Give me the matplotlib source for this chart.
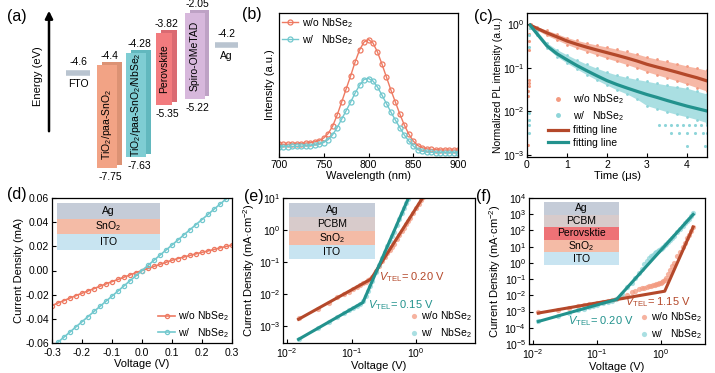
import numpy as np
import matplotlib.pyplot as plt
import matplotlib.transforms as mtransforms
from matplotlib.patches import Rectangle
from matplotlib.lines import Line2D
from matplotlib.ticker import LogLocator, FormatStrFormatter

plt.rcParams['font.family'] = ['Liberation Sans', 'DejaVu Sans']
plt.rcParams['mathtext.fontset'] = 'custom'
plt.rcParams['mathtext.rm'] = 'Liberation Sans'
plt.rcParams['mathtext.it'] = 'Liberation Sans:italic'
plt.rcParams['mathtext.bf'] = 'Liberation Sans:bold'
plt.rcParams['axes.unicode_minus'] = False
plt.rcParams['axes.linewidth'] = 0.9
plt.rcParams['xtick.direction'] = 'in'
plt.rcParams['ytick.direction'] = 'in'
plt.rcParams['xtick.major.size'] = 3
plt.rcParams['ytick.major.size'] = 3
plt.rcParams['xtick.major.pad'] = 2
plt.rcParams['ytick.major.pad'] = 2
plt.rcParams['xtick.labelsize'] = 7.5
plt.rcParams['ytick.labelsize'] = 7.5
plt.rcParams['axes.labelsize'] = 8
plt.rcParams['axes.labelpad'] = 1

## Data

# (a) energy levels (eV)
band_names = ['TiO$_2$/paa-SnO$_2$', 'TiO$_2$/paa-SnO$_2$/NbSe$_2$', 'Perovskite', 'Spiro-OMeTAD']
band_top = [-4.4, -4.28, -3.82, -2.05]
band_bot = [-7.75, -7.63, -5.35, -5.22]
elec_names = ['FTO', 'Ag']
elec_level = [-4.6, -4.2]

# (b) steady-state PL
wavelength = [700, 705, 710, 715, 720, 725, 730, 735, 740, 745, 750, 755, 760, 765, 770, 775, 780,
              785, 790, 795, 800, 805, 810, 815, 820, 825, 830, 835, 840, 845, 850, 855, 860, 865,
              870, 875, 880, 885, 890, 895, 900]
pl_wo = [12.6, 12.7, 12.8, 13.0, 13.2, 13.5, 13.9, 14.4, 15.2, 16.5, 19.0, 23.5, 31, 42, 55, 68, 81,
         95, 107, 115, 117.5, 114, 105, 93, 80, 67, 55, 43, 32, 23, 16, 11.5, 9.3, 8.2,
         7.6, 7.3, 7.1, 7.0, 7.0, 7.0, 7.0]
pl_w = [10.3, 10.4, 10.4, 10.6, 10.7, 10.9, 11.1, 11.5, 12.0, 12.8, 14.5, 17.4, 22.3, 29.4, 37.9, 46.3, 54.8,
        63.9, 71.7, 77.5, 78.5, 76, 70, 62, 53.5, 45, 37, 29.5, 22, 16, 11, 7.3, 5.8, 5.1,
        4.7, 4.5, 4.4, 4.3, 4.3, 4.3, 4.3]

# (c) TRPL
t_fit_wo = [0.08, 0.25, 0.5, 0.75, 1.0, 1.25, 1.5, 1.75, 2.0, 2.25, 2.5, 2.75, 3.0, 3.25, 3.5, 3.75, 4.0, 4.25, 4.5]
fit_wo = [0.95, 0.80, 0.63, 0.51, 0.41, 0.345, 0.295, 0.255, 0.222, 0.193, 0.167, 0.143, 0.12, 0.104,
          0.091, 0.079, 0.068, 0.059, 0.05]
t_fit_w = [0.08, 0.15, 0.25, 0.5, 0.75, 1.0, 1.25, 1.5, 1.75, 2.0, 2.25, 2.5, 2.75, 3.0, 3.25, 3.5, 3.75, 4.0, 4.25, 4.5]
fit_w = [0.95, 0.78, 0.60, 0.316, 0.209, 0.152, 0.112, 0.0851, 0.0653, 0.0507, 0.0412, 0.0343, 0.0288,
         0.0243, 0.0209, 0.0178, 0.0153, 0.0132, 0.0116, 0.0102]
t_cloud = [0.1, 0.25, 0.5, 0.75, 1.0, 1.25, 1.5, 1.75, 2.0, 2.25, 2.5, 2.75, 3.0, 3.25, 3.5, 3.75, 4.0, 4.25, 4.5]
cloud_wo_lo = [0.868, 0.730, 0.549, 0.434, 0.341, 0.280, 0.234, 0.196, 0.165, 0.140, 0.118, 0.099, 0.081,
               0.069, 0.059, 0.050, 0.042, 0.035, 0.029]
cloud_wo_hi = [0.997, 0.877, 0.723, 0.599, 0.493, 0.424, 0.371, 0.332, 0.299, 0.266, 0.236, 0.207, 0.177,
               0.157, 0.141, 0.125, 0.110, 0.099, 0.087]
cloud_w_lo = [0.85, 0.56, 0.28, 0.18, 0.128, 0.093, 0.069, 0.052, 0.040, 0.031, 0.025, 0.019, 0.0135,
              0.0115, 0.0098, 0.0085, 0.0075, 0.0065, 0.0055]
cloud_w_hi = [0.98, 0.70, 0.37, 0.26, 0.198, 0.152, 0.120, 0.097, 0.080, 0.068, 0.060, 0.054, 0.049,
              0.044, 0.040, 0.037, 0.034, 0.029, 0.025]
early_wo_t = [0.02, 0.03, 0.03, 0.04, 0.04, 0.05, 0.05, 0.06, 0.06, 0.07]
early_wo_v = [0.0017, 0.022, 0.03, 0.038, 0.045, 0.052, 0.25, 0.4, 0.6, 0.8]
early_w_t = [0.04, 0.04, 0.05, 0.05, 0.05, 0.06, 0.07]
early_w_v = [0.0032, 0.0048, 0.0065, 0.009, 0.3, 0.55, 0.8]
tail_w_t = [3.3, 3.45, 3.6, 3.75, 3.9, 4.05, 4.2, 4.35, 4.5, 3.6, 3.8, 4.0, 4.2, 4.4, 4.5, 4.0, 4.45]
tail_w_v = [0.0048, 0.0048, 0.0048, 0.0048, 0.0048, 0.0048, 0.0048, 0.0048, 0.0048,
            0.0032, 0.0032, 0.0032, 0.0032, 0.0032, 0.0032, 0.0016, 0.0016]

# (d) I-V of electron-only ITO/SnO2/Ag
v_d = [-0.30, -0.28, -0.26, -0.24, -0.22, -0.20, -0.18, -0.16, -0.14, -0.12, -0.10, -0.08, -0.06, -0.04,
       -0.02, 0.00, 0.02, 0.04, 0.06, 0.08, 0.10, 0.12, 0.14, 0.16, 0.18, 0.20, 0.22, 0.24, 0.26, 0.28, 0.30]
j_d_wo = [-0.0290, -0.0269, -0.0249, -0.0228, -0.0208, -0.0188, -0.0169, -0.0150, -0.0130, -0.0111,
          -0.0092, -0.0074, -0.0055, -0.0037, -0.0018, 0.0000, 0.0017, 0.0034, 0.0051, 0.0068, 0.0085,
          0.0099, 0.0112, 0.0125, 0.0138, 0.0150, 0.0162, 0.0174, 0.0187, 0.0199, 0.0211]
j_d_w = [-0.0636, -0.0593, -0.0551, -0.0509, -0.0466, -0.0424, -0.0382, -0.0339, -0.0297, -0.0254,
         -0.0212, -0.0170, -0.0127, -0.0085, -0.0042, 0.0000, 0.0042, 0.0085, 0.0127, 0.0169, 0.0211,
         0.0253, 0.0296, 0.0338, 0.0380, 0.0422, 0.0464, 0.0507, 0.0549, 0.0591, 0.0633]

# (e) SCLC ITO/SnO2/PCBM/Ag
v_e = [0.015, 0.03, 0.045, 0.06, 0.075, 0.09, 0.105, 0.12, 0.135, 0.15, 0.165, 0.18, 0.195, 0.21, 0.24,
       0.27, 0.3, 0.33, 0.36, 0.39, 0.42, 0.45, 0.5, 0.55, 0.6, 0.65, 0.7, 0.75, 0.8, 0.9, 1.0, 1.1, 1.2, 1.3]
j_e_wo = [1.8e-3, 3.5e-3, 5.4e-3, 7.9e-3, 1.03e-2, 1.2e-2, 1.45e-2, 1.7e-2, 1.95e-2, 2.2e-2, 2.4e-2,
          2.7e-2, 2.9e-2, 3.5e-2, 5.2e-2, 7.6e-2, 0.105, 0.14, 0.19, 0.24, 0.3, 0.38, 0.53, 0.72, 0.95,
          1.2, 1.55, 1.9, 2.35, 3.4, 4.8, 6.5, 8.5, 11]
j_e_w = [4.0e-4, 8.8e-4, 1.35e-3, 1.9e-3, 2.5e-3, 3.1e-3, 3.7e-3, 4.3e-3, 5.0e-3, 6.0e-3, 8.5e-3,
         1.27e-2, 1.84e-2, 2.6e-2, 4.8e-2, 8.2e-2, 0.134, 0.21, 0.31, 0.45, 0.63, 0.86, 1.4, 2.2, 3.3,
         4.8, 6.8, 9.2, 12, 20, 30, 40, 50, 60]
fit_e_wo_v = [0.015, 0.2, 1.5]
fit_e_wo_j = [1.65e-3, 0.0295, 17]
fit_e_w_v = [0.015, 0.15, 0.85]
fit_e_w_j = [3.9e-4, 5.5e-3, 16]

# (f) SCLC ITO/SnO2/Perovskite/PCBM/Ag
v_f = [0.0122, 0.025, 0.037, 0.05, 0.062, 0.075, 0.087, 0.1, 0.125, 0.15, 0.175, 0.2, 0.25, 0.3, 0.35,
       0.4, 0.45, 0.5, 0.55, 0.6, 0.65, 0.7, 0.75, 0.8, 0.85, 0.9, 0.95, 1.0, 1.05, 1.1, 1.15, 1.2,
       1.3, 1.4, 1.5, 1.6, 1.8, 2.0, 2.2, 2.4, 2.6, 2.8, 3.0, 3.15]
j_f_wo = [9e-4, 1.32e-3, 1.73e-3, 2.12e-3, 2.45e-3, 2.8e-3, 3.1e-3, 3.4e-3, 3.96e-3, 4.5e-3, 5.0e-3,
          5.6e-3, 8e-3, 0.011, 0.015, 0.019, 0.023, 0.027, 0.030, 0.033, 0.036, 0.039, 0.042, 0.045,
          0.048, 0.052, 0.056, 0.060, 0.066, 0.075, 0.09, 0.11, 0.2, 0.35, 0.6, 1.0, 2.5, 5, 10, 18,
          32, 55, 95, 170]
j_f_w = [2.8e-4, 5.4e-4, 8.4e-4, 1.18e-3, 1.5e-3, 1.85e-3, 2.2e-3, 2.55e-3, 3.3e-3, 4.0e-3, 4.8e-3,
         5.8e-3, 0.012, 0.031, 0.06, 0.11, 0.25, 0.45, 0.8, 1.3, 1.9, 2.6, 3.2, 3.8, 4.5, 5.2, 6.0,
         7.0, 8.5, 10, 12, 14, 20, 27, 35, 46, 78, 123, 187, 273, 387, 535, 725, 1150]
fit_f_wo_v = [0.0122, 1.15, 3.2]
fit_f_wo_j = [8.1e-4, 0.018, 162]
fit_f_w_v = [0.0122, 0.203, 3.2]
fit_f_w_j = [2.45e-4, 5.6e-3, 966]

# colours
c_wo = '#EE7A62'
c_w = '#72C8CE'
c_wo_fit = '#B4482A'
c_w_fit = '#22928D'
c_wo_sc = '#F39A80'
c_w_sc = '#8ED5D9'
layer_colors = {'Ag': '#C5CCD8', 'PCBM': '#D8CBCB', 'Perovsktie': '#EE7276',
                'SnO$_2$': '#F4BBA6', 'ITO': '#C8E4F1'}

## Figure

W, H = 715, 373
fig = plt.figure(figsize=(W / 100, H / 100), dpi=100)


def px_axes(x0, y0, x1, y1):
    return fig.add_axes([x0 / W, 1 - y1 / H, (x1 - x0) / W, (y1 - y0) / H])


def layer_stack(ax, bounds, names):
    iax = ax.inset_axes(bounds)
    n = len(names)
    for i, name in enumerate(names):
        iax.bar(0, 1, bottom=n - 1 - i, width=1, color=layer_colors[name], lw=0)
        iax.text(0, n - 0.5 - i, name, ha='center', va='center', fontsize=7.5)
    iax.set_xlim(-0.5, 0.5)
    iax.set_ylim(0, n)
    iax.set_axis_off()


# (a) energy level diagram, drawn on a schematic (not to scale) energy axis
axa = px_axes(0, 0, 240, 190)
axa.set_axis_off()
E_anchor = [-9.5, -7.75, -7.63, -5.35, -5.22, -4.6, -4.4, -4.28, -4.2, -3.82, -2.05, -0.5]
px_anchor = -np.array([190, 168, 157, 105, 99, 73, 65, 53, 45, 33, 13, 0], float)
axa.set_yscale('function', functions=(lambda e: np.interp(e, E_anchor, px_anchor),
                                      lambda v: np.interp(v, px_anchor, E_anchor)))
axa.set_ylim(-9.5, -0.5)
axa.set_xlim(-78 / 29.7, 162 / 29.7)

band_x = [0.98, 1.96, 2.9, 3.94]
band_w = [0.67, 0.67, 0.54, 0.67]
band_colors = ['#F2A385', '#7FCDD3', '#F27B7E', '#D7B8DC']
side_colors = ['#DC9274', '#62B8BE', '#DA6A72', '#BEA2C5']
label_shift = [-6, 0, 0, 0]
side_trans = axa.transData + mtransforms.ScaledTranslation(0.045, 0.03, fig.dpi_scale_trans)
for i in range(len(band_names)):
    x0 = band_x[i] - band_w[i] / 2
    axa.add_patch(Rectangle((x0, band_bot[i]), band_w[i], band_top[i] - band_bot[i],
                            transform=side_trans, color=side_colors[i], lw=0, zorder=1))
    axa.add_patch(Rectangle((x0, band_bot[i]), band_w[i], band_top[i] - band_bot[i],
                            color=band_colors[i], lw=0, zorder=2))
    e_mid = np.interp((np.interp(band_top[i], E_anchor, px_anchor) +
                       np.interp(band_bot[i], E_anchor, px_anchor)) / 2, px_anchor, E_anchor)
    axa.annotate(band_names[i], (band_x[i], e_mid), xytext=(0, label_shift[i]),
                 textcoords='offset points', rotation=90, ha='center', va='center',
                 fontsize=7.5, zorder=3)
    axa.annotate(str(band_top[i]), (band_x[i], band_top[i]), xytext=(2, 3),
                 textcoords='offset points', ha='center', va='bottom', fontsize=7.5)
    axa.annotate(str(band_bot[i]), (band_x[i], band_bot[i]), xytext=(2, -3),
                 textcoords='offset points', ha='center', va='top', fontsize=7.5)

elec_x = [0, 5.0]
for i in range(len(elec_names)):
    axa.hlines(elec_level[i], elec_x[i] - 0.4, elec_x[i] + 0.4, color='#B9C4D0', lw=4)
    axa.annotate(str(elec_level[i]), (elec_x[i], elec_level[i]), xytext=(0, 4),
                 textcoords='offset points', ha='center', va='bottom', fontsize=7.5)
    axa.annotate(elec_names[i], (elec_x[i], elec_level[i]), xytext=(0, -4),
                 textcoords='offset points', ha='center', va='top', fontsize=7.5)

axa.annotate('', xy=(49 / 240, 1 - 8 / 190), xytext=(49 / 240, 1 - 134 / 190),
             xycoords='axes fraction',
             arrowprops=dict(arrowstyle='-|>', lw=1.8, color='black', mutation_scale=11))
axa.text(38 / 240, 1 - 76 / 190, 'Energy (eV)', rotation=90, ha='center', va='center',
         fontsize=8, transform=axa.transAxes)

# (b) PL
axb = px_axes(279, 13, 458, 157)
axb.plot(wavelength, pl_wo, '-o', color=c_wo, ms=3.6, mfc='none', mew=0.9, lw=1,
         label='w/o NbSe$_2$')
axb.plot(wavelength, pl_w, '-o', color=c_w, ms=3.6, mfc='none', mew=0.9, lw=1,
         label='w/   NbSe$_2$')
axb.set_xlim(700, 900)
axb.set_ylim(0, 144)
axb.set_xticks([700, 750, 800, 850, 900])
axb.set_yticks([])
axb.set_xlabel('Wavelength (nm)')
axb.set_ylabel('Intensity (a.u.)', labelpad=3)
axb.legend(loc='upper left', frameon=False, fontsize=7.5, handlelength=1.5, handletextpad=0.4,
           labelspacing=0.3, borderaxespad=0.2, borderpad=0.1)

# (c) TRPL
axc = px_axes(527, 13, 707, 157)
axc.fill_between(t_cloud, cloud_wo_lo, cloud_wo_hi, color=c_wo_sc, alpha=0.7, lw=0)
axc.fill_between(t_cloud, cloud_w_lo, cloud_w_hi, color=c_w_sc, alpha=0.75, lw=0)
axc.scatter(t_cloud + t_cloud, cloud_wo_lo + cloud_wo_hi, s=4, color=c_wo_sc, lw=0)
axc.scatter(t_cloud + t_cloud, cloud_w_lo + cloud_w_hi, s=4, color=c_w_sc, lw=0)
axc.scatter(early_wo_t, early_wo_v, s=5, color=c_wo_sc, lw=0)
axc.scatter(early_w_t, early_w_v, s=5, color=c_w_sc, lw=0)
axc.scatter(tail_w_t, tail_w_v, s=5, color=c_w_sc, lw=0)
axc.plot(t_fit_wo, fit_wo, color=c_wo_fit, lw=2.3)
axc.plot(t_fit_w, fit_w, color=c_w_fit, lw=2.3)
axc.set_yscale('log')
axc.set_xlim(0, 4.5)
axc.set_ylim(9e-4, 1.8)
axc.set_xticks([0, 1, 2, 3, 4])
axc.minorticks_off()
axc.set_xlabel('Time (\u03bcs)')
axc.set_ylabel('Normalized PL intensity (a.u.)', fontsize=7.5, labelpad=0)
handles_c = [Line2D([], [], ls='none', marker='o', ms=2.5, color=c_wo_sc),
             Line2D([], [], ls='none', marker='o', ms=2.5, color=c_w_sc),
             Line2D([], [], color=c_wo_fit, lw=2.3),
             Line2D([], [], color=c_w_fit, lw=2.3)]
axc.legend(handles_c, ['w/o NbSe$_2$', 'w/   NbSe$_2$', 'fitting line', 'fitting line'],
           loc='lower left', bbox_to_anchor=(0.08, 0.02), frameon=False, fontsize=7.5,
           handlelength=2.0, handletextpad=0.4, labelspacing=0.25, borderpad=0.1)

# (d) electron-only I-V
axd = px_axes(52, 198, 232, 343)
axd.plot(v_d, j_d_wo, '-o', color=c_wo, ms=3, mfc='none', mew=0.9, lw=1.2, label='w/o NbSe$_2$')
axd.plot(v_d, j_d_w, '-o', color=c_w, ms=3, mfc='none', mew=0.9, lw=1.2, label='w/   NbSe$_2$')
axd.set_xlim(-0.3, 0.3)
axd.set_ylim(-0.06, 0.06)
axd.set_xticks([-0.3, -0.2, -0.1, 0.0, 0.1, 0.2, 0.3])
axd.set_yticks([-0.06, -0.04, -0.02, 0.0, 0.02, 0.04, 0.06])
axd.xaxis.set_major_formatter(FormatStrFormatter('%.1f'))
axd.yaxis.set_major_formatter(FormatStrFormatter('%.2f'))
axd.tick_params(axis='x', pad=3.5)
axd.set_xlabel('Voltage (V)')
axd.set_ylabel('Current Density (mA)')
axd.legend(loc='lower right', frameon=False, fontsize=7.5, handlelength=1.6, handletextpad=0.3,
           labelspacing=0.3, borderaxespad=0.2, borderpad=0.1)
layer_stack(axd, [0.028, 0.641, 0.572, 0.325], ['Ag', 'SnO$_2$', 'ITO'])

# (e) SCLC, electron-only
axe = px_axes(283, 198, 475, 343)
axe.scatter(v_e, j_e_wo, s=14, color=c_wo_sc, alpha=0.75, lw=0, label='w/o NbSe$_2$')
axe.scatter(v_e, j_e_w, s=14, color=c_w_sc, alpha=0.75, lw=0, label='w/   NbSe$_2$')
axe.plot(fit_e_wo_v, fit_e_wo_j, color=c_wo_fit, lw=2.2)
axe.plot(fit_e_w_v, fit_e_w_j, color=c_w_fit, lw=2.2)
axe.set_xscale('log')
axe.set_yscale('log')
axe.set_xlim(0.0086, 8.3)
axe.set_ylim(3e-4, 10)
axe.minorticks_off()
axe.set_xlabel('Voltage (V)')
axe.set_ylabel('Current Density (mA\u00b7cm$^{-2}$)')
axe.text(0.50, 0.457, r'$V_{\mathrm{TEL}}$= 0.20 V', color=c_wo_fit, fontsize=8,
         transform=axe.transAxes, va='center')
axe.text(0.443, 0.262, r'$V_{\mathrm{TEL}}$= 0.15 V', color=c_w_fit, fontsize=8,
         transform=axe.transAxes, va='center')
axe.legend(loc='lower right', frameon=False, fontsize=7.5, handlelength=0.8, handletextpad=0.3,
           labelspacing=0.3, borderaxespad=0.2, borderpad=0.1, markerscale=1.0)
layer_stack(axe, [0.031, 0.579, 0.448, 0.386], ['Ag', 'PCBM', 'SnO$_2$', 'ITO'])

# (f) SCLC, device
axf = px_axes(529, 198, 705, 344)
axf.scatter(v_f, j_f_wo, s=14, color=c_wo_sc, alpha=0.75, lw=0, label='w/o NbSe$_2$')
axf.scatter(v_f, j_f_w, s=14, color=c_w_sc, alpha=0.75, lw=0, label='w/   NbSe$_2$')
axf.plot(fit_f_wo_v, fit_f_wo_j, color=c_wo_fit, lw=2.2)
axf.plot(fit_f_w_v, fit_f_w_j, color=c_w_fit, lw=2.2)
axf.set_xscale('log')
axf.set_yscale('log')
axf.set_xlim(0.0087, 4.9)
axf.set_ylim(1e-5, 1e4)
axf.yaxis.set_major_locator(LogLocator(base=10, numticks=20))
axf.minorticks_off()
axf.set_xlabel('Voltage (V)')
axf.set_ylabel('Current Density (mA\u00b7cm$^{-2}$)')
axf.text(0.545, 0.286, r'$V_{\mathrm{TEL}}$= 1.15 V', color=c_wo_fit, fontsize=8,
         transform=axf.transAxes, va='center')
axf.text(0.222, 0.158, r'$V_{\mathrm{TEL}}$= 0.20 V', color=c_w_fit, fontsize=8,
         transform=axf.transAxes, va='center')
axf.legend(loc='lower right', frameon=False, fontsize=7.5, handlelength=0.8, handletextpad=0.3,
           labelspacing=0.3, borderaxespad=0.2, borderpad=0.1)
layer_stack(axf, [0.085, 0.541, 0.426, 0.432], ['Ag', 'PCBM', 'Perovsktie', 'SnO$_2$', 'ITO'])

# panel letters
for lab, x, y in [('(a)', 17, 16), ('(b)', 252, 14), ('(c)', 483, 17),
                  ('(d)', 17, 195), ('(e)', 254, 197), ('(f)', 484, 197)]:
    fig.text(x / W, 1 - y / H, lab, fontsize=11.5, ha='center', va='center')

fig.savefig('out.png', dpi=100)
